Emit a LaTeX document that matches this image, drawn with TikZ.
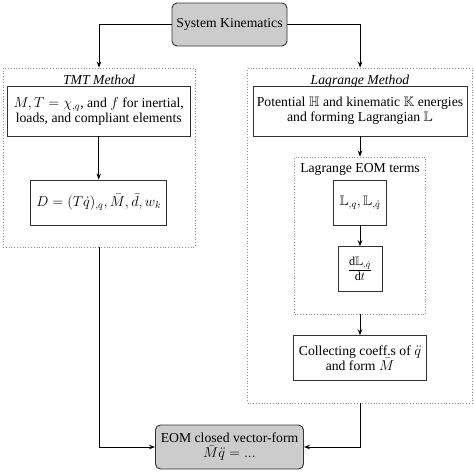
\documentclass[tikz,border=0pt]{standalone}
\usepackage{amssymb}
\usepackage{fontspec}
\setmainfont{Liberation Serif}
\usetikzlibrary{arrows.meta}
\begin{document}
\begin{tikzpicture}[x=1pt,y=-1pt,
  font=\fontsize{13.7}{15}\selectfont,
  box/.style={draw=black!80, line width=0.9pt, fill=white, align=center, inner sep=0pt},
  term/.style={box, rounded corners=5pt, fill=black!20},
  group/.style={draw=black!45, dotted, line width=0.8pt, inner sep=0pt},
  grouptitle/.style={anchor=base, inner sep=0pt},
  arr/.style={-{Stealth[length=6pt,width=4.5pt]}, line width=1pt}]
\useasboundingbox (0,0) rectangle (474,472);

% groups
\node[group, minimum width=192pt, minimum height=179pt] (tmt) at (99,157.5) {};
\node[group, minimum width=225pt, minimum height=335pt] (lag) at (360.1,235.5) {};
\node[group, minimum width=131pt, minimum height=157pt] (inner) at (360,235.5) {};

\node[grouptitle, font=\fontsize{13.7}{15}\selectfont\itshape] (tmtt) at (99,84) {TMT Method};
\node[grouptitle, font=\fontsize{13.7}{15}\selectfont\itshape] (lagt) at (360,84) {Lagrange Method};
\node[grouptitle] (innert) at (360,172.5) {Lagrange EOM terms};

% boxes
\node[term, minimum width=115pt, minimum height=43pt] (sys) at (229.5,24.5) {System Kinematics};
\node[box, minimum width=183pt, minimum height=50pt] (b1) at (98.7,111)
  {$M, T = \chi_{,q}$, and $f$ for inertial,\\ loads, and compliant elements};
\node[box, minimum width=136pt, minimum height=45pt] (b2) at (98.7,202.5)
  {$D = (T\dot{q})_{,q}, \bar{M}, \bar{d}, w_k$};
\node[box, minimum width=214pt, minimum height=50pt] (l1) at (360,111)
  {Potential $\mathbb{H}$ and kinematic $\mathbb{K}$ energies\\ and forming Lagrangian $\mathbb{L}$};
\node[box, minimum width=53pt, minimum height=45pt] (l2) at (360,202.5)
  {$\mathbb{L}_{,q}, \mathbb{L}_{,\dot{q}}$};
\node[box, minimum width=44pt, minimum height=45pt, font=\fontsize{17.5}{19}\selectfont] (l3) at (360,269.2)
  {$\frac{\mathrm{d}\mathbb{L}_{,\dot{q}}}{\mathrm{d}t}$};
\node[box, minimum width=133pt, minimum height=45pt] (l4) at (360,358.2)
  {Collecting coeff.s of $\ddot{q}$\\ and form $\bar{M}$};
\node[term, minimum width=148pt, minimum height=44pt] (eom) at (229.5,447)
  {EOM closed vector-form\\ $\bar{M}\ddot{q} = ...$};

% connectors
\draw[arr] (sys.west) -| (tmt.north);
\draw[arr] (sys.east) -| (lag.north);
\draw[arr] (b1) -- (b2);
\draw[arr] (l1) -- (inner);
\draw[arr] (l2) -- (l3);
\draw[arr] (inner) -- (l4);
\draw[arr] (tmt.south) |- (eom.west);
\draw[arr] (lag.south) |- (eom.east);
\end{tikzpicture}
\end{document}
